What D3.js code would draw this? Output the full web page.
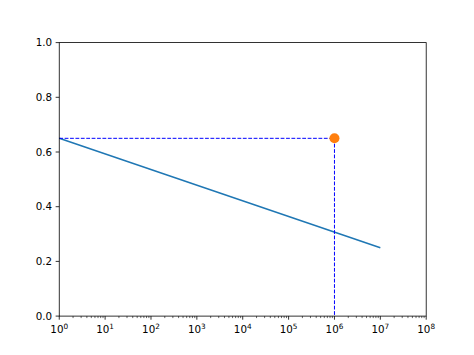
<!DOCTYPE html>
<html>
<head>
<meta charset="utf-8">
<script src="https://cdn.jsdelivr.net/npm/d3@7"></script>
<style>
  html, body { margin: 0; background: #fff; }
  svg { display: block; font-family: "DejaVu Sans", sans-serif; }
</style>
</head>
<body>
<svg id="chart" width="474" height="355"></svg>
<script>
// line data (log x)
const lineX = [1, 1e7]
const lineY = [0.65, 0.25]
// highlighted point and its guide lines
const pointX = [1e6]
const pointY = [0.65]
// ticks
const xDecades = [0, 1, 2, 3, 4, 5, 6, 7, 8]
const yTicks = [0, 0.2, 0.4, 0.6, 0.8, 1.0]

const W = 474, H = 355
const m = {left: 59.25, right: 474 - 426.2, top: 42.6, bottom: 355 - 316.1}

const svg = d3.select('#chart')
const x = d3.scaleLog().domain([1, 1e8]).range([m.left, W - m.right])
const y = d3.scaleLinear().domain([0, 1]).range([H - m.bottom, m.top])

const g = svg.append('g')

// data line
g.append('path')
	.datum(lineX.map((d, i) => [d, lineY[i]]))
	.attr('fill', 'none')
	.attr('stroke', '#1f77b4')
	.attr('stroke-width', 1.5)
	.attr('d', d3.line().x(d => x(d[0])).y(d => y(d[1])))

// dashed guides
const px = pointX[0], py = pointY[0]
g.append('line')
	.attr('x1', x(1)).attr('x2', x(px))
	.attr('y1', y(py)).attr('y2', y(py))
	.attr('stroke', '#0000ff').attr('stroke-width', 1)
	.attr('stroke-dasharray', '3.8,1.6')
g.append('line')
	.attr('x1', x(px)).attr('x2', x(px))
	.attr('y1', y(py)).attr('y2', y(0))
	.attr('stroke', '#0000ff').attr('stroke-width', 1)
	.attr('stroke-dasharray', '3.8,1.6')

// point
g.selectAll('circle.pt')
	.data(pointX.map((d, i) => [d, pointY[i]]))
	.join('circle')
	.attr('cx', d => x(d[0]))
	.attr('cy', d => y(d[1]))
	.attr('r', 5)
	.attr('fill', '#ff7f0e')

// frame
g.append('rect')
	.attr('x', m.left).attr('y', m.top)
	.attr('width', W - m.left - m.right).attr('height', H - m.top - m.bottom)
	.attr('fill', 'none').attr('stroke', '#000').attr('stroke-width', 0.8)

// x axis: major ticks + minor ticks
const xb = H - m.bottom
const minor = []
for (let e = 0; e < 8; e++) for (let k = 2; k <= 9; k++) minor.push(k * 10 ** e)
g.selectAll('line.xminor').data(minor).join('line')
	.attr('x1', d => x(d)).attr('x2', d => x(d))
	.attr('y1', xb).attr('y2', xb + 2)
	.attr('stroke', '#000').attr('stroke-width', 0.6)
g.selectAll('line.xmajor').data(xDecades).join('line')
	.attr('x1', d => x(10 ** d)).attr('x2', d => x(10 ** d))
	.attr('y1', xb).attr('y2', xb + 3.6)
	.attr('stroke', '#000').attr('stroke-width', 0.8)
const xl = g.selectAll('text.xl').data(xDecades).join('text')
	.attr('x', d => x(10 ** d))
	.attr('y', xb + 17)
	.attr('text-anchor', 'middle')
	.attr('font-size', 10.3)
	.attr('fill', '#000')
xl.append('tspan').text('10')
xl.append('tspan').attr('dy', -4.5).attr('font-size', 7.3).text(d => d)

// y axis
g.selectAll('line.ytick').data(yTicks).join('line')
	.attr('x1', m.left - 3.6).attr('x2', m.left)
	.attr('y1', d => y(d)).attr('y2', d => y(d))
	.attr('stroke', '#000').attr('stroke-width', 0.8)
g.selectAll('text.yl').data(yTicks).join('text')
	.attr('x', m.left - 7.2)
	.attr('y', d => y(d))
	.attr('dy', '0.35em')
	.attr('text-anchor', 'end')
	.attr('font-size', 10.3)
	.attr('fill', '#000')
	.text(d => d.toFixed(1))
</script>
</body>
</html>
